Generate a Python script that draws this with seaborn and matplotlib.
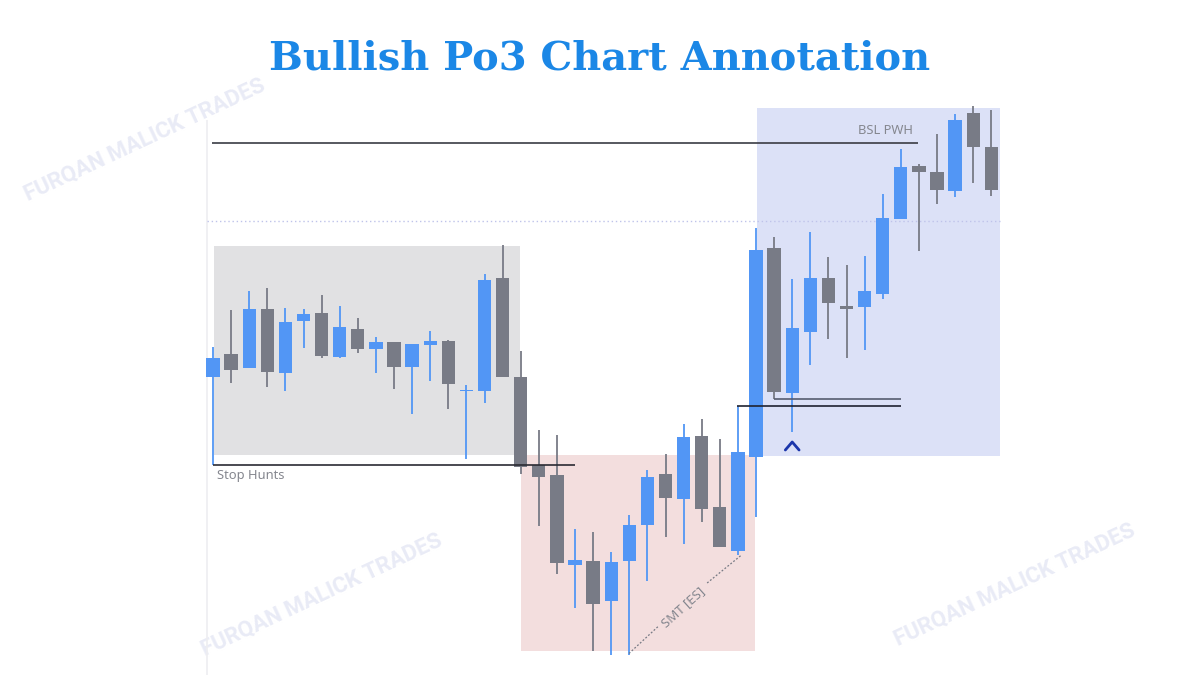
import matplotlib
matplotlib.use("Agg")
import matplotlib.pyplot as plt
import numpy as np
import pandas as pd
import seaborn as sns
from matplotlib.patches import Rectangle

# --- Candles ---
opens = [297.7, 320.7, 306.7, 365.7, 301.7, 354, 361.7, 317.7, 345.7, 325.7, 332.7,
         307.7, 329.7, 333.7, 283.7, 284.3, 397, 298.3, 210, 199.7, 110.3, 114,
         74.3, 114.3, 149.7, 200.7, 175.7, 239, 167.7, 123.7, 218.3, 427.3, 282.3,
         343, 396.7, 368.7, 368, 381.3, 456, 508.7, 503.3, 484, 562, 527.7]
closes = [316.7, 305, 365.7, 302.7, 353.3, 361, 318.7, 347.7, 325.7, 332.7, 307.7,
          330.7, 333.7, 290.7, 285.3, 395, 297.7, 208.3, 198, 111.7, 115, 71.3,
          113, 150, 198.3, 176.7, 237.7, 166, 127.7, 222.7, 425, 283.3, 346.7,
          396.7, 372, 366, 383.7, 457.3, 508.3, 502.7, 485, 555, 528.3, 485]
highs = [327.7, 365, 384, 386.7, 366.7, 365.7, 380, 369, 356.7, 338.3, 332.7,
         330.7, 344.3, 334.7, 290.3, 401, 430, 324.3, 245, 240, 145.7, 142.7,
         123, 160.3, 205, 221, 251, 256.3, 236, 269, 447.3, 438.3, 396,
         443, 418.3, 410, 419, 480.7, 525.7, 511, 541, 561.3, 569, 565]
lows = [210, 291.7, 306.7, 288.3, 284.3, 326.7, 316.7, 317, 321.7, 302.3, 286.3,
        261.3, 294.3, 266, 216, 272.3, 297.7, 201, 149.3, 100.7, 67, 24,
        19.7, 20, 93.7, 138.3, 131.3, 153.3, 127.7, 120, 158, 276, 243.3,
        309.7, 336, 316.7, 324.7, 376.3, 456, 424, 470.7, 477.7, 491.7, 479.3]

# --- Colours ---
up_color = "#5296f5"
down_color = "#787b86"
ink = "#3a3c44"
label_color = "#85878f"
mark_color = "#e9ebf6"

# --- Setup ---
sns.set_style("white")
plt.rcParams["font.family"] = ["Noto Sans", "DejaVu Sans"]

df = pd.DataFrame({"candle": np.arange(len(opens)), "open": opens, "close": closes,
                   "high": highs, "low": lows})
df["bottom"] = df[["open", "close"]].min(axis=1)
df["body"] = (df["close"] - df["open"]).abs()
df["up"] = df["close"] > df["open"]

fig = plt.figure(figsize=(12, 6.75), dpi=100)
ax = fig.add_axes([0, 0, 1, 1])

# --- Zones ---
ax.add_patch(Rectangle((0.03, 220), 16.93, 209, color="#e1e1e3", lw=0, zorder=0))
ax.add_patch(Rectangle((17.02, 24), 12.95, 196, color="#f3dede", lw=0, zorder=0))
ax.add_patch(Rectangle((30.06, 219), 13.42, 348, color="#dce1f7", lw=0, zorder=0))

# --- Candles ---
wick_colors = [up_color if u else down_color for u in df["up"]]
ax.vlines(df["candle"], df["low"], df["high"], colors=wick_colors, lw=1.3, zorder=2)
for is_up, color in [(True, up_color), (False, down_color)]:
    part = df[df["up"] == is_up]
    sns.barplot(data=part, x="candle", y="body", bottom=part["bottom"].values, color=color,
                native_scale=True, width=0.73, errorbar=None, saturation=1,
                linewidth=0, ax=ax, zorder=3)

# --- Levels ---
ax.vlines(-0.33, 0, 555, color="#eeeef1", lw=1.2, zorder=1)
ax.hlines(454, -0.33, 43.48, color="#bfc3ea", lw=1, ls=(0, (1, 2)), zorder=1)
ax.hlines(532, -0.05, 38.95, color=ink, lw=1.2, zorder=4)
ax.hlines(210.3, 0, 20, color="#2b2b33", lw=1.2, zorder=4)
ax.hlines(276, 31, 38, color="#565c70", lw=1.2, zorder=4)
ax.hlines(269, 28.95, 38, color="#1f2230", lw=1.2, zorder=4)

# --- SMT line and marker ---
ax.plot([22.98, 24.58], [21.5, 48.3], color="#777a84", lw=0.9, ls=(0, (1.5, 1.5)), zorder=4)
ax.plot([27.3, 29.2], [92, 120], color="#777a84", lw=0.9, ls=(0, (1.5, 1.5)), zorder=4)
ax.plot([31.62, 32, 32.38], [225, 233, 225], color="#1c36ab", lw=2, zorder=5)

# --- Labels ---
ax.text(0.22, 199, "Stop Hunts", color=label_color, fontsize=9.3, va="center", ha="left")
ax.text(37.18, 545, "BSL PWH", color=label_color, fontsize=9.3, va="center", ha="center")
ax.text(25.96, 68, "SMT [ES]", color=label_color, fontsize=9.5, va="center", ha="center",
        rotation=42, rotation_mode="anchor")

# --- Watermarks ---
for x, y in [(-3.76, 535), (6.02, 80), (44.3, 90)]:
    ax.text(x, y, "FURQAN MALICK TRADES", color=mark_color, fontsize=16, fontweight="bold",
            family="Roboto", rotation=25, va="center", ha="center",
            rotation_mode="anchor", zorder=0)

# --- Title ---
ax.text(21.38, 617, "Bullish Po3 Chart Annotation", color="#1b87e6", fontsize=28.8,
        fontweight="bold", family="DejaVu Serif", va="center", ha="center")

ax.set_xlim(-213 / 18.1, (1200 - 213) / 18.1)
ax.set_ylim(0, 675)
ax.set_axis_off()

plt.savefig("out.png", dpi=100)
